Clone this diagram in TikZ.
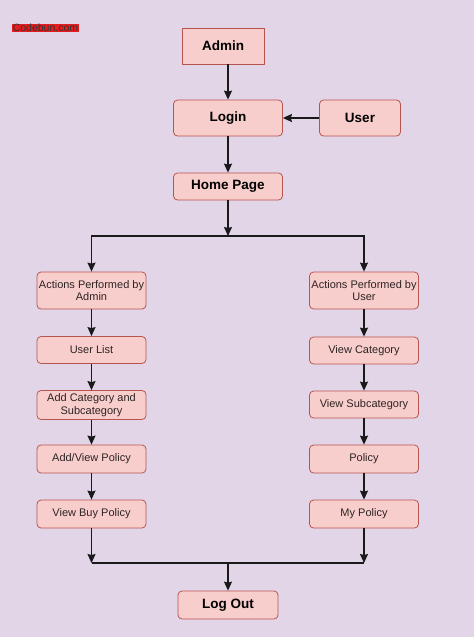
\documentclass[tikz,border=0pt]{standalone}
\usepackage{fontspec}
\setmainfont{Liberation Sans}
\usepackage{xcolor}
\usetikzlibrary{arrows.meta}
\definecolor{bg}{RGB}{225, 213, 231}
\definecolor{box}{RGB}{248, 206, 204}
\definecolor{edge}{RGB}{184, 84, 80}
\definecolor{tag}{RGB}{232, 28, 30}
\definecolor{txt}{RGB}{45, 35, 35}

\tikzset{
  flow/.style={draw=edge, fill=box, line width=0.8pt, rounded corners=4pt,
    align=center, text=txt, inner sep=0pt, minimum width=109pt, minimum height=27pt,
    font=\fontsize{11}{12.5}\selectfont},
  big/.style={flow, text=black, font=\fontsize{13.5}{15}\selectfont\bfseries},
  link/.style={-{Stealth[length=9pt, width=8pt, inset=1pt]}, line width=1.1pt, black!90}
}

\begin{document}
\begin{tikzpicture}[x=1pt, y=-1pt]
      \fill[bg] (0, 0) rectangle (474, 637);
      \node[fill=tag, text=black!80, inner sep=0.6pt, font=\fontsize{10.5}{12}\selectfont] (brand) at (45.5, 28) {Codebun.com};

      % top part
      \node[big, rounded corners=0pt, minimum width=82pt, minimum height=36pt] (admin) at (223, 46) {Admin};
      \node[big, minimum height=36pt] (login) at (228, 118) {Login};
      \node[big, minimum width=81pt, minimum height=36pt] (user) at (360, 118) {User};
      \node[big] (home) at (228, 186.5) {Home Page};
      \coordinate (split) at (228, 236);

      % admin side
      \node[flow, minimum height=37pt] (adminact) at (91.5, 290.5) {Actions Performed by\\Admin};
      \node[flow] (userlist) at (91.5, 350) {User List};
      \node[flow, minimum height=29pt] (addcat) at (91.5, 405) {Add Category and\\Subcategory};
      \node[flow, minimum height=28pt] (addpol) at (91.5, 459) {Add/View Policy};
      \node[flow, minimum height=28pt] (buypol) at (91.5, 514) {View Buy Policy};

      % user side
      \node[flow, minimum height=37pt] (useract) at (364, 290.5) {Actions Performed by\\User};
      \node[flow] (viewcat) at (364, 350.5) {View Category};
      \node[flow] (viewsub) at (364, 404.5) {View Subcategory};
      \node[flow, minimum height=28pt] (policy) at (364, 459) {Policy};
      \node[flow, minimum height=28pt] (mypol) at (364, 514) {My Policy};

      \coordinate (joinl) at (91.5, 563);
      \coordinate (joinr) at (364, 563);
      \coordinate (joinm) at (228, 563);
      \node[big, minimum width=100pt, minimum height=28pt] (logout) at (228, 605) {Log Out};

      % connectors
      \draw[link] (admin.south -| login.north) -- (login);
      \draw[link] (user) -- (login);
      \draw[link] (login) -- (home);
      \draw[link] (home) -- (split);
      \draw[link] (split) -| (adminact);
      \draw[link] (split) -| (useract);
      \draw[link] (adminact) -- (userlist);
      \draw[link] (userlist) -- (addcat);
      \draw[link] (addcat) -- (addpol);
      \draw[link] (addpol) -- (buypol);
      \draw[link] (useract) -- (viewcat);
      \draw[link] (viewcat) -- (viewsub);
      \draw[link] (viewsub) -- (policy);
      \draw[link] (policy) -- (mypol);
      \draw[link] (buypol) -- (joinl);
      \draw[link] (mypol) -- (joinr);
      \draw[line width=1.1pt, black!90] (joinl) -- (joinr);
      \draw[link] (joinm) -- (logout);
    \end{tikzpicture}
\end{document}
